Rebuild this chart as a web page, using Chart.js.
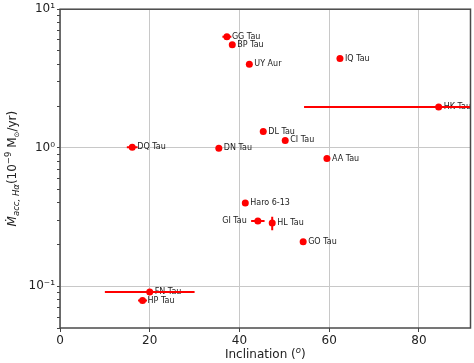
<!DOCTYPE html>
<html>
<head>
<meta charset="utf-8">
<script src="https://cdn.jsdelivr.net/npm/chart.js@4"></script>
<style>
  body { margin: 0; background: #fff; }
  #wrap { width: 474px; height: 363px; }
</style>
</head>
<body>
<div id="wrap"><canvas id="myChart"></canvas></div>
<script>
  // star names, inclination (deg) and accretion rate (1e-9 Msun/yr)
  const names = ["GG Tau", "BP Tau", "UY Aur", "IQ Tau", "HK Tau", "DL Tau", "CI Tau", "DQ Tau",
    "DN Tau", "AA Tau", "Haro 6-13", "GI Tau", "HL Tau", "GO Tau", "FN Tau", "HP Tau"]
  const incl = [37.2, 38.4, 42.2, 62.4, 84.4, 45.3, 50.2, 16.1, 35.4, 59.5, 41.3, 44.1, 47.3, 54.2, 20.0, 18.4]
  const inclErr = [1.0, 0, 0, 0, 30, 0, 0, 1.2, 0, 0, 0, 1.5, 0, 0, 10, 1.0]
  const mdot = [6.33, 5.55, 4.0, 4.4, 1.97, 1.31, 1.13, 1.01, 0.99, 0.836, 0.40, 0.296, 0.286, 0.21, 0.091, 0.079]
  const mdotErr = [0, 0, 0, 0, 0, 0, 0, 0, 0, 0, 0, 0, 0.032, 0, 0, 0]

  const xTicks = [0, 20, 40, 60, 80]
  const yTicks = [0.05, 0.06, 0.07, 0.08, 0.09, 0.1, 0.2, 0.3, 0.4, 0.5, 0.6, 0.7, 0.8, 0.9,
    1, 2, 3, 4, 5, 6, 7, 8, 9, 10]
  const yLabels = { 0.1: "10\u207B\u00B9", 1: "10\u2070", 10: "10\u00B9" }

  const leftLabels = ["GI Tau"]
  const FONT = "DejaVu Sans"

  const isMajor = (v) => Math.abs(Math.log10(v) - Math.round(Math.log10(v))) < 1e-6

  // text made of pieces with their own font and vertical shift
  function drawRich(c, parts, cx, cy) {
    let total = 0
    parts.forEach((p) => {
      c.font = p.font
      p.w = c.measureText(p.t).width
      total += p.w
    })
    let x = cx - total / 2
    c.textBaseline = "alphabetic"
    c.textAlign = "left"
    parts.forEach((p) => {
      c.font = p.font
      c.fillText(p.t, x, cy + (p.dy || 0))
      x += p.w
    })
  }

  const extras = {
    id: "extras",
    beforeDatasetsDraw(chart) {
      const c = chart.ctx
      const xs = chart.scales.x
      const ys = chart.scales.y
      const area = chart.chartArea

      // labels
      c.save()
      c.fillStyle = "#222"
      c.font = "8px " + FONT
      c.textBaseline = "middle"
      names.forEach((n, i) => {
        const px = xs.getPixelForValue(incl[i])
        const py = ys.getPixelForValue(mdot[i])
        if (leftLabels.includes(n)) {
          c.textAlign = "right"
          c.fillText(n, px - 11, py)
        } else {
          c.textAlign = "left"
          c.fillText(n, px + 5, py)
        }
      })
      c.restore()

      // error bars
      c.save()
      c.beginPath()
      c.rect(area.left, area.top, area.right - area.left, area.bottom - area.top)
      c.clip()
      c.strokeStyle = "red"
      c.lineWidth = 2
      incl.forEach((x, i) => {
        const py = ys.getPixelForValue(mdot[i])
        const px = xs.getPixelForValue(x)
        if (inclErr[i] > 0) {
          c.beginPath()
          c.moveTo(xs.getPixelForValue(x - inclErr[i]), py)
          c.lineTo(xs.getPixelForValue(x + inclErr[i]), py)
          c.stroke()
        }
        if (mdotErr[i] > 0) {
          c.beginPath()
          c.moveTo(px, ys.getPixelForValue(mdot[i] - mdotErr[i]))
          c.lineTo(px, ys.getPixelForValue(mdot[i] + mdotErr[i]))
          c.stroke()
        }
      })
      c.restore()
    },
    afterDraw(chart) {
      const c = chart.ctx
      const area = chart.chartArea
      c.save()
      c.strokeStyle = "#4a4a4a"
      c.lineWidth = 1.5
      c.strokeRect(area.left, area.top, area.right - area.left, area.bottom - area.top)

      c.fillStyle = "#222"
      // x title
      drawRich(c, [
        { t: "Inclination (", font: "12px " + FONT },
        { t: "o", font: "italic 8.5px " + FONT, dy: -5 },
        { t: ")", font: "12px " + FONT },
      ], (area.left + area.right) / 2, 358)

      // y title
      c.translate(16, (area.top + area.bottom) / 2)
      c.rotate(-Math.PI / 2)
      drawRich(c, [
        { t: "\u1E40", font: "italic 12px " + FONT },
        { t: "acc, H\u03B1", font: "italic 8.5px " + FONT, dy: 3 },
        { t: "(10", font: "12px " + FONT },
        { t: "\u22129", font: "8.5px " + FONT, dy: -5 },
        { t: " M", font: "12px " + FONT },
        { t: "\u2299", font: "7px " + FONT, dy: 3 },
        { t: "/yr)", font: "12px " + FONT },
      ], 0, 0)
      c.restore()
    },
  }

  const ctx = document.getElementById("myChart")

  new Chart(ctx, {
    type: "scatter",
    data: {
      datasets: [
        {
          data: incl.map((x, i) => ({ x: x, y: mdot[i] })),
          backgroundColor: "red",
          borderColor: "red",
          pointRadius: 3.5,
          pointHoverRadius: 3.5,
          borderWidth: 0,
        },
      ],
    },
    options: {
      responsive: true,
      maintainAspectRatio: false,
      animation: false,
      devicePixelRatio: 1,
      layout: { padding: { top: 7, right: 2, left: 0, bottom: 0 } },
      plugins: {
        legend: { display: false },
        tooltip: { enabled: false },
      },
      scales: {
        x: {
          type: "linear",
          min: 0,
          max: 91.5,
          afterBuildTicks: (s) => { s.ticks = xTicks.map((v) => ({ value: v })) },
          afterFit: (s) => { s.height = 35 },
          ticks: { font: { family: FONT, size: 12 }, color: "#222", padding: 2, maxRotation: 0, autoSkip: false },
          grid: { color: "#c8c8c8", lineWidth: 1, tickColor: "#444", tickLength: 4 },
          border: { display: false },
        },
        y: {
          type: "logarithmic",
          min: 0.05,
          max: 10,
          afterBuildTicks: (s) => { s.ticks = yTicks.map((v) => ({ value: v })) },
          afterFit: (s) => { s.width = 60 },
          ticks: {
            font: { family: FONT, size: 12 },
            color: "#222",
            padding: 2,
            autoSkip: false,
            callback: (v) => yLabels[v] || "",
          },
          grid: {
            color: (c) => (c.tick && isMajor(c.tick.value) ? "#c8c8c8" : "rgba(0,0,0,0)"),
            tickColor: "#444",
            tickLength: 3,
          },
          border: { display: false },
        },
      },
    },
    plugins: [extras],
  })
</script>
</body>
</html>
